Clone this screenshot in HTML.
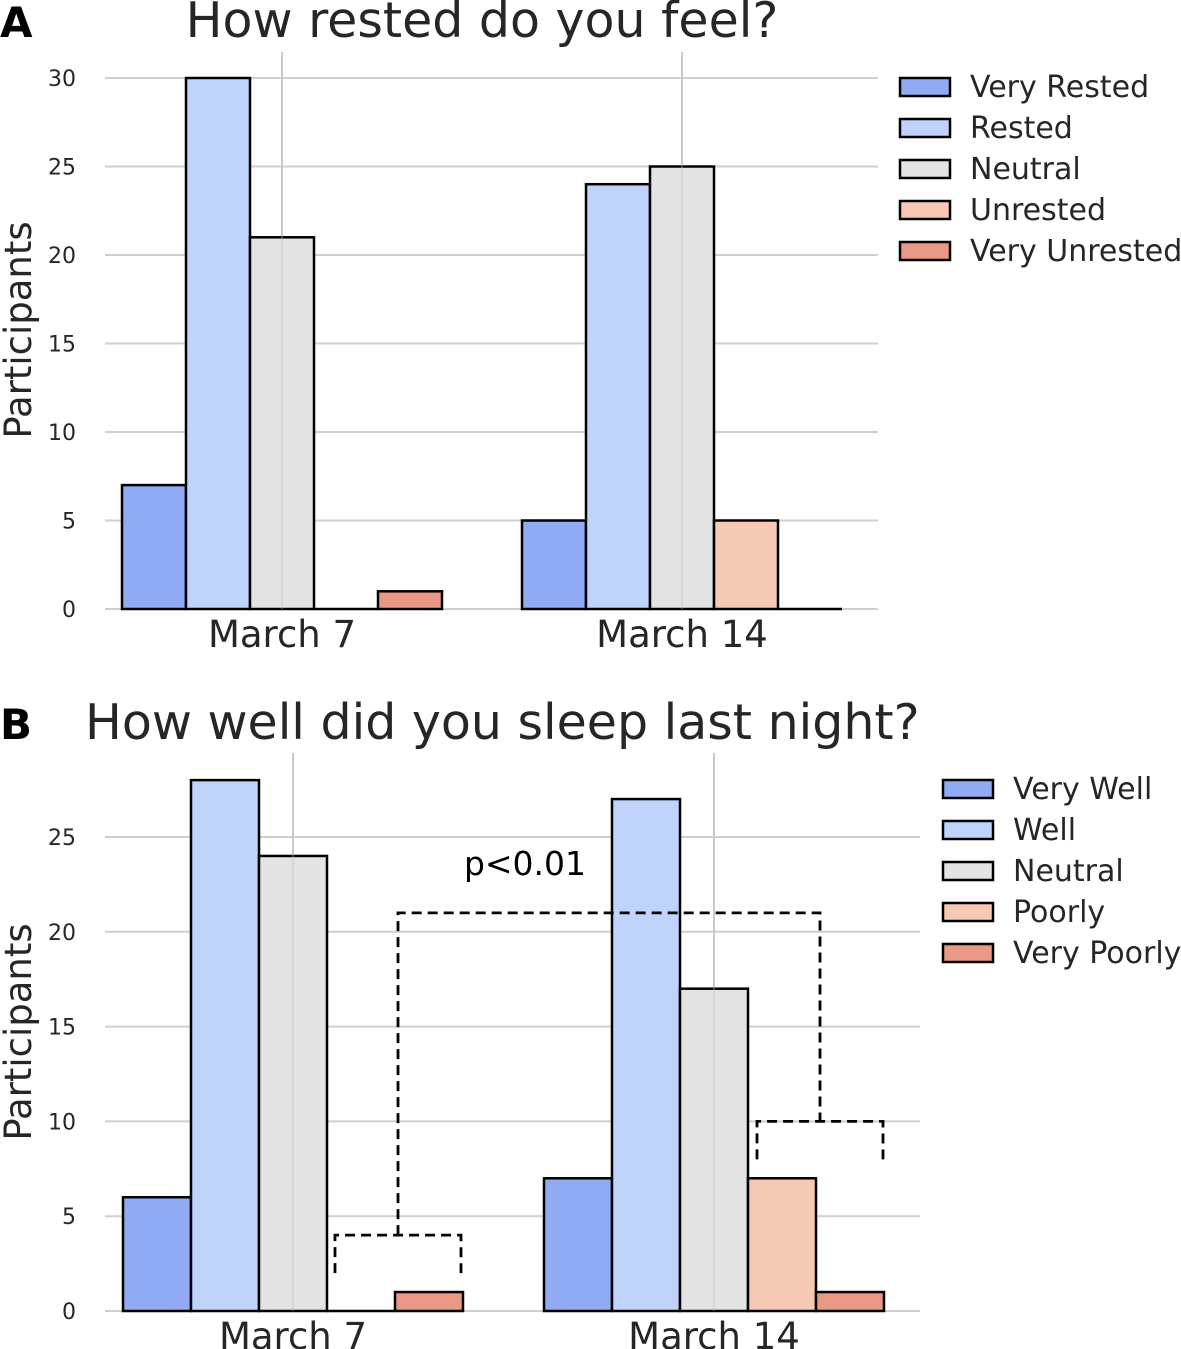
<!DOCTYPE html>
<html><head><meta charset="utf-8"><style>
body{margin:0;background:#fff;}
svg{display:block;font-family:"DejaVu Sans","Liberation Sans",sans-serif;}
</style></head><body>
<svg id="c" width="1181" height="1349" viewBox="0 0 1181 1349"></svg>
<script>
const groups=["March 7","March 14"];
const restedCats=["Very Rested","Rested","Neutral","Unrested","Very Unrested"];
const restedM7=[7,30,21,0,1];
const restedM14=[5,24,25,5,0];
const restedTicks=[0,5,10,15,20,25,30];
const sleepCats=["Very Well","Well","Neutral","Poorly","Very Poorly"];
const sleepM7=[6,28,24,0,1];
const sleepM14=[7,27,17,7,1];
const sleepTicks=[0,5,10,15,20,25];
const colors=["#90abf3","#c0d4fb","#e3e3e3","#f6c9b4","#ea9885"];
const NS="http://www.w3.org/2000/svg";
const svg=document.getElementById('c');
function el(t,a,txt){const e=document.createElementNS(NS,t);for(const k in a)e.setAttribute(k,a[k]);if(txt!==undefined)e.textContent=txt;svg.appendChild(e);return e;}
function panel(o){
  const y=v=>o.y0-v*o.ppu;
  o.ticks.forEach(t=>{
    const g=el('line',{x1:o.xl,x2:o.xr,y1:y(t),y2:y(t),stroke:'#cfcfcf','stroke-width':2});
    
    
    const tl=el('text',{x:76,y:y(t)+8,'text-anchor':'end','font-size':22,fill:'#262626'},String(t));
    
    
  });
  o.centers.forEach((c,gi)=>{
    const v=el('line',{x1:c,x2:c,y1:o.ytop,y2:o.y0,stroke:'#cfcfcf','stroke-width':2});
    
    
  });
  o.series.forEach((vals,gi)=>{
    const c=o.centers[gi];
    vals.forEach((val,i)=>{
      const x=c-2.5*o.bw+i*o.bw;
      if(val===0){
        const l=el('line',{x1:x,x2:x+o.bw,y1:o.y0,y2:o.y0,stroke:'#000','stroke-width':2.5});
        
        
        return;
      }
      const r=el('rect',{x:x,y:y(val),width:o.bw,height:val*o.ppu,fill:colors[i],stroke:'#000','stroke-width':2.5});
      
      
    });
    const xl=el('text',{x:c,y:o.xlabY,'text-anchor':'middle','font-size':37,fill:'#262626'},groups[gi]);
    
    
  });
  o.centers.forEach((c,gi)=>{
    const v=el('line',{x1:c,x2:c,y1:o.ytop,y2:o.y0,stroke:'#bdbdbd','stroke-width':2,'stroke-opacity':0.35});
    
    
  });
  const yl=el('text',{x:0,y:0,transform:`translate(31,${o.ylabC}) rotate(-90)`,'text-anchor':'middle','font-size':37,fill:'#262626'},'Participants');
  
  
  const t=el('text',{x:o.titleX,y:o.titleY,'text-anchor':o.titleAnchor,'font-size':49,fill:'#262626'},o.title);
  
  
  const L=el('text',{x:0,y:o.titleY,'font-size':42,'font-weight':'bold',fill:'#000'},o.letter);
  
  
  o.cats.forEach((cat,i)=>{
    const cy=o.legY+i*41;
    const r=el('rect',{x:o.legX,y:cy-9,width:50,height:18,fill:colors[i],stroke:'#000','stroke-width':2.5});
    
    
    const tx=el('text',{x:o.legX+70,y:cy+10,'font-size':30,fill:'#262626'},cat);
    
    
  });
  return y;
}
panel({y0:609,ppu:17.7,xl:105,xr:878,ytop:52,ticks:restedTicks,centers:[282,682],bw:64,series:[restedM7,restedM14],cats:restedCats,xlabY:647,ylabC:330,title:'How rested do you feel?',titleX:482,titleY:37,titleAnchor:'middle',letter:'A',legX:900,legY:87});
const yB=panel({y0:1311,ppu:18.96,xl:105,xr:920,ytop:753,ticks:sleepTicks,centers:[293,714],bw:68,series:[sleepM7,sleepM14],cats:sleepCats,xlabY:1349,ylabC:1032,title:'How well did you sleep last night?',titleX:85,titleY:739,titleAnchor:'start',letter:'B',legX:943,legY:789});
const d='stroke:#000;stroke-width:2.8;stroke-dasharray:10 6;fill:none';
const p1=el('path',{d:`M335 ${yB(2)} V${yB(4)} H461 V${yB(2)}`,style:d});


const p2=el('path',{d:`M757 ${yB(8)} V${yB(10)} H883 V${yB(8)}`,style:d});


const p3=el('path',{d:`M398 ${yB(4)} V${yB(21)} H820 V${yB(10)}`,style:d});


const pt=el('text',{x:525,y:875,'text-anchor':'middle','font-size':33,fill:'#000'},'p<0.01');


</script>
</body></html>
